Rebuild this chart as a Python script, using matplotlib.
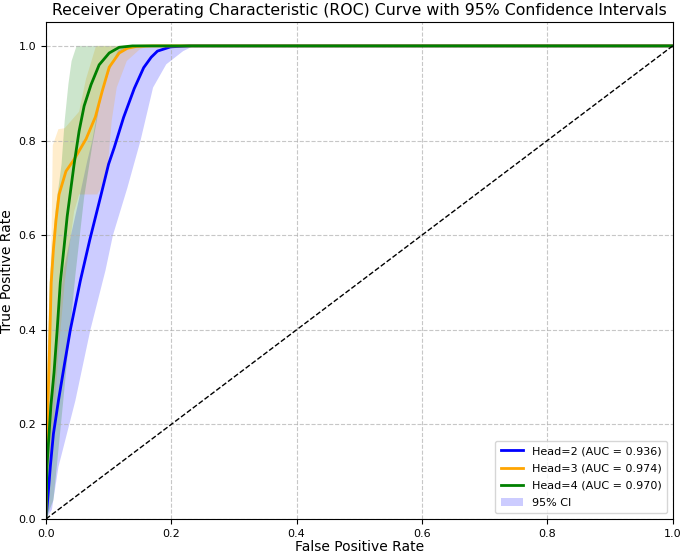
import numpy as np
import matplotlib
matplotlib.use("Agg")
import matplotlib.pyplot as plt

# mean ROC curves
h2_fpr = [0, 0.0016, 0.007, 0.012, 0.02, 0.03, 0.039, 0.055, 0.07, 0.087, 0.1, 0.109, 0.124, 0.141, 0.156, 0.168, 0.178, 0.199, 0.23, 1.0]
h2_tpr = [0, 0.02, 0.11, 0.18, 0.25, 0.33, 0.40, 0.504, 0.59, 0.68, 0.75, 0.785, 0.849, 0.91, 0.954, 0.976, 0.989, 0.998, 1.0, 1.0]
h3_fpr = [0, 0.001, 0.003, 0.005, 0.0085, 0.012, 0.016, 0.021, 0.032, 0.045, 0.064, 0.079, 0.09, 0.101, 0.117, 0.13, 0.145, 0.17, 1.0]
h3_tpr = [0, 0.1, 0.23, 0.32, 0.50, 0.57, 0.63, 0.686, 0.735, 0.76, 0.803, 0.85, 0.905, 0.955, 0.985, 0.995, 0.999, 1.0, 1.0]
h4_fpr = [0, 0.0016, 0.008, 0.013, 0.018, 0.023, 0.029, 0.034, 0.04, 0.045, 0.053, 0.061, 0.072, 0.085, 0.101, 0.117, 0.138, 1.0]
h4_tpr = [0, 0.11, 0.24, 0.31, 0.40, 0.50, 0.575, 0.64, 0.70, 0.75, 0.82, 0.873, 0.918, 0.96, 0.985, 0.997, 1.0, 1.0]

# 95% CI bounds
h2_up_x = [0, 0.002, 0.005, 0.015, 0.028, 0.04, 0.05, 0.066, 0.074, 0.085, 0.1, 0.115, 0.13, 1.0]
h2_up_y = [0, 0.1, 0.23, 0.35, 0.525, 0.6, 0.659, 0.757, 0.80, 0.88, 0.95, 0.99, 1.0, 1.0]
h2_lo_x = [0, 0.0096, 0.02, 0.047, 0.071, 0.095, 0.107, 0.13, 0.151, 0.171, 0.192, 0.219, 0.236, 1.0]
h2_lo_y = [0, 0.02, 0.11, 0.25, 0.40, 0.525, 0.6, 0.70, 0.80, 0.912, 0.961, 0.989, 1.0, 1.0]

h3_up_x = [0, 0.002, 0.006, 0.009, 0.011, 0.02, 0.03, 0.053, 0.064, 0.08, 1.0]
h3_up_y = [0, 0.3, 0.5, 0.6, 0.79, 0.824, 0.826, 0.861, 0.93, 1.0, 1.0]
h3_lo_x = [0, 0.01, 0.02, 0.03, 0.045, 0.053, 0.082, 0.088, 0.099, 0.105, 0.113, 0.129, 0.15, 0.165, 1.0]
h3_lo_y = [0, 0.15, 0.35, 0.5, 0.65, 0.686, 0.686, 0.70, 0.75, 0.842, 0.912, 0.968, 0.993, 1.0, 1.0]

h4_up_x = [0, 0.002, 0.006, 0.015, 0.025, 0.03, 0.036, 0.041, 0.049, 1.0]
h4_up_y = [0, 0.3, 0.5, 0.65, 0.75, 0.842, 0.92, 0.968, 1.0, 1.0]
h4_lo_x = [0, 0.012, 0.027, 0.04, 0.047, 0.061, 0.074, 0.09, 0.105, 0.119, 0.13, 1.0]
h4_lo_y = [0, 0.04, 0.24, 0.42, 0.515, 0.68, 0.79, 0.905, 0.96, 0.989, 1.0, 1.0]

labels = ["Head=2 (AUC = 0.936)", "Head=3 (AUC = 0.974)", "Head=4 (AUC = 0.970)"]
colors = ["blue", "orange", "green"]

fig, ax = plt.subplots(figsize=(6.85, 5.56), dpi=100)
fig.subplots_adjust(left=0.067, right=0.982, bottom=0.0665, top=0.960)

curves = [(h2_fpr, h2_tpr), (h3_fpr, h3_tpr), (h4_fpr, h4_tpr)]
bands = [(h2_up_x, h2_up_y, h2_lo_x, h2_lo_y),
         (h3_up_x, h3_up_y, h3_lo_x, h3_lo_y),
         (h4_up_x, h4_up_y, h4_lo_x, h4_lo_y)]

# shaded confidence bands
for i in range(3):
    ux, uy, lx, ly = bands[i]
    px = np.r_[ux, lx[::-1]]
    py = np.r_[uy, ly[::-1]]
    ax.fill(px, py, color=colors[i], alpha=0.2, lw=0,
            label="95% CI" if i == 0 else None)

for i in range(3):
    ax.plot(curves[i][0], curves[i][1], color=colors[i], lw=2, label=labels[i])

ax.plot([0, 1], [0, 1], "k--", lw=1)

ax.set_xlim(0, 1)
ax.set_ylim(0, 1.05)
ax.set_xticks(np.arange(0, 1.01, 0.2))
ax.set_yticks(np.arange(0, 1.01, 0.2))
ax.tick_params(labelsize=8)
ax.grid(True, linestyle="--", alpha=0.7)
ax.set_xlabel("False Positive Rate", fontsize=10, labelpad=1)
ax.set_ylabel("True Positive Rate", fontsize=10, labelpad=3)
ax.set_title("Receiver Operating Characteristic (ROC) Curve with 95% Confidence Intervals",
             fontsize=11.3, pad=5)

h, lab = ax.get_legend_handles_labels()
order = [lab.index(t) for t in labels] + [lab.index("95% CI")]
ax.legend([h[k] for k in order], [lab[k] for k in order], loc="lower right",
          fontsize=8, labelspacing=0.65, borderpad=0.5)

fig.savefig("out.png")
